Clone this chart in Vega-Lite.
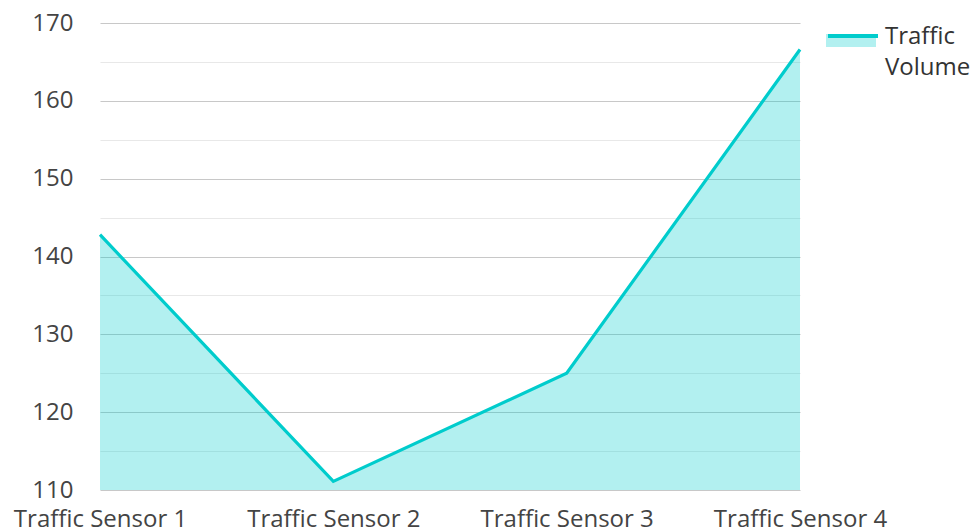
{
  "$schema": "https://vega.github.io/schema/vega-lite/v6.json",
  "width": 700,
  "height": 467,
  "autosize": {"type": "none"},
  "padding": {"left": 100, "top": 23, "right": 175, "bottom": 41},
  "config": {"font": "Open Sans", "view": {"stroke": null}},
  "data": {
    "values": [
      {"sensor": "Traffic Sensor 1", "volume": 142.8, "series": "Traffic Volume"},
      {"sensor": "Traffic Sensor 2", "volume": 111.1, "series": "Traffic Volume"},
      {"sensor": "Traffic Sensor 3", "volume": 125.0, "series": "Traffic Volume"},
      {"sensor": "Traffic Sensor 4", "volume": 166.6, "series": "Traffic Volume"}
    ]
  },
  "encoding": {
    "x": {
      "field": "sensor",
      "type": "ordinal",
      "scale": {"type": "point", "padding": 0},
      "axis": {
        "title": null,
        "labelAngle": 0,
        "labelFontSize": 24,
        "labelColor": "#444444",
        "ticks": false,
        "domain": false,
        "grid": false,
        "labelPadding": 17
      }
    },
    "y": {
      "field": "volume",
      "type": "quantitative",
      "scale": {"domain": [110, 170], "nice": false, "zero": false},
      "axis": {
        "title": null,
        "values": [110, 115, 120, 125, 130, 135, 140, 145, 150, 155, 160, 165, 170],
        "labelExpr": "datum.value % 10 === 0 ? datum.label : ''",
        "labelFontSize": 24,
        "labelColor": "#444444",
        "labelPadding": 27,
        "ticks": false,
        "domain": false,
        "gridColor": {"condition": {"test": "datum.value % 10 === 0", "value": "#c8c8c8"}, "value": "#e8e8e8"},
        "gridWidth": 1.2
      }
    }
  },
  "layer": [
    {
      "mark": {"type": "area", "fillOpacity": 0.3, "clip": true},
      "encoding": {
        "y2": {"datum": 110},
        "fill": {
          "field": "series",
          "type": "nominal",
          "scale": {"domain": ["Traffic Volume"], "range": ["#00cccc"]},
          "legend": {
            "title": null,
            "orient": "none",
            "legendX": 726,
            "legendY": -14,
            "padding": 0,
            "symbolType": "M-1,0H1V0.52H-1Z",
            "symbolSize": 2500,
            "symbolOpacity": 0.3,
            "symbolStrokeWidth": 0,
            "labelExpr": "''",
            "labelFontSize": 24
          }
        }
      }
    },
    {
      "mark": {"type": "line", "strokeWidth": 3.2},
      "encoding": {
        "stroke": {
          "field": "series",
          "type": "nominal",
          "scale": {"range": ["#00cccc"]},
          "legend": {
            "title": null,
            "orient": "none",
            "legendX": 726,
            "legendY": -14,
            "padding": 0,
            "symbolType": "M-1,0H1",
            "symbolSize": 2500,
            "symbolStrokeWidth": 4,
            "symbolFillColor": "transparent",
            "labelExpr": "split(datum.label, ' ')",
            "labelFontSize": 24,
            "labelColor": "#333333",
            "labelOffset": 5,
            "labelBaseline": "top",
            "labelLimit": 200,
            "encode": {"labels": {"update": {"dy": {"value": -11}, "lineHeight": {"value": 31}}}}
          }
        }
      }
    }
  ]
}
